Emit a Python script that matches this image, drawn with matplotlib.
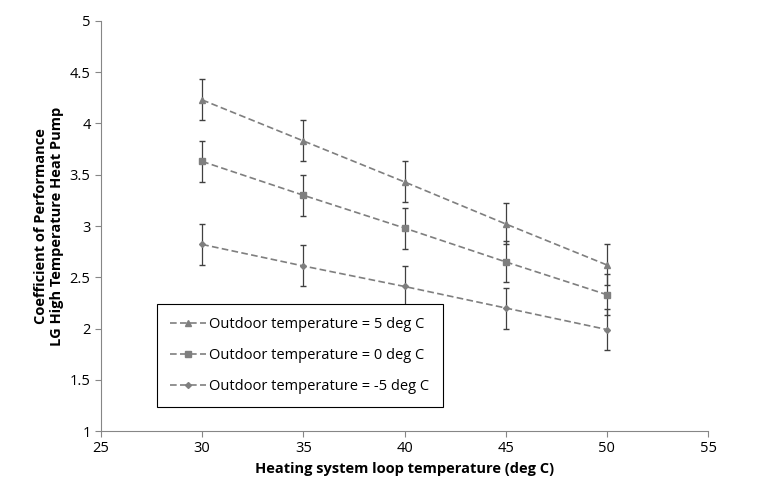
import matplotlib.pyplot as plt
from matplotlib.lines import Line2D

# --- data ---
loop_temp = [30, 35, 40, 45, 50]
cop_plus5 = [4.23, 3.83, 3.43, 3.02, 2.62]
cop_zero = [3.63, 3.30, 2.98, 2.65, 2.33]
cop_minus5 = [2.82, 2.61, 2.41, 2.20, 1.99]
err = 0.2

series = [
    (cop_plus5, "^", "Outdoor temperature = 5 deg C"),
    (cop_zero, "s", "Outdoor temperature = 0 deg C"),
    (cop_minus5, "D", "Outdoor temperature = -5 deg C"),
]

plt.rcParams['font.family'] = ['Open Sans', 'DejaVu Sans']
fig = plt.figure(figsize=(7.68, 4.94), dpi=100)
ax = fig.add_axes([0.1315, 0.1275, 0.7905, 0.83])

handles = []
for vals, mk, lab in series:
    ms = 4 if mk != "D" else 3
    ax.errorbar(loop_temp, vals, yerr=err, color="#7f7f7f", ls="--", lw=1.2,
                marker=mk, ms=ms, capsize=2.5, elinewidth=0.9,
                ecolor="#404040", dashes=(4, 2))
    handles.append(Line2D([], [], color="#7f7f7f", ls="--", lw=1.2, dashes=(4, 2),
                          marker=mk, ms=ms, label=lab))

ax.set_xlim(25, 55)
ax.set_ylim(1, 5)
ax.set_xticks(range(25, 56, 5))
ax.set_yticks([1, 1.5, 2, 2.5, 3, 3.5, 4, 4.5, 5])
ax.set_yticklabels(["1", "1.5", "2", "2.5", "3", "3.5", "4", "4.5", "5"])
ax.tick_params(labelsize=10.5, color="#868686", length=4)
for s in ["top", "right"]:
    ax.spines[s].set_visible(False)
for s in ["left", "bottom"]:
    ax.spines[s].set_color("#868686")

ax.set_xlabel("Heating system loop temperature (deg C)", fontsize=10.5, fontweight="bold")
ax.set_ylabel("Coefficient of Performance\nLG High Temperature Heat Pump",
              fontsize=10.5, fontweight="bold")

leg = ax.legend(handles=handles, loc="lower left", bbox_to_anchor=(0.08, 0.04),
                fontsize=10.5, frameon=True, fancybox=False, edgecolor="black",
                framealpha=1, handlelength=2.5, handletextpad=0.2,
                labelspacing=1.1, borderpad=0.9)
leg.get_frame().set_linewidth(0.8)
leg.set_zorder(5)

fig.savefig("out.png", dpi=100)
